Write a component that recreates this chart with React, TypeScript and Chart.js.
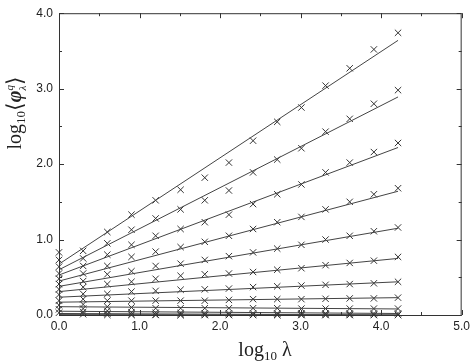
import React, { useEffect, useRef } from "react";
import { Chart, registerables } from "chart.js";

Chart.register(...registerables);

// log10(lambda) positions of the samples
const X_VALUES = [0.0, 0.3, 0.6, 0.9, 1.2, 1.51, 1.81, 2.11, 2.41, 2.71, 3.01, 3.31, 3.61, 3.91, 4.21];

// measured moments (one list per q)
const S1 = [0.83, 0.85, 1.10, 1.33, 1.52, 1.66, 1.82, 2.02, 2.31, 2.56, 2.75, 3.04, 3.27, 3.52, 3.74];
const S2 = [0.73, 0.75, 0.95, 1.13, 1.28, 1.40, 1.52, 1.65, 1.89, 2.06, 2.21, 2.43, 2.60, 2.80, 2.98];
const S3 = [0.64, 0.65, 0.80, 0.93, 1.05, 1.14, 1.23, 1.33, 1.47, 1.60, 1.73, 1.89, 2.02, 2.16, 2.28];
const S4 = [0.55, 0.55, 0.65, 0.77, 0.84, 0.90, 0.97, 1.05, 1.14, 1.23, 1.30, 1.40, 1.50, 1.60, 1.68];
const S5 = [0.48, 0.45, 0.54, 0.58, 0.65, 0.68, 0.73, 0.78, 0.83, 0.88, 0.93, 1.00, 1.05, 1.11, 1.16];
const S6 = [0.41, 0.37, 0.41, 0.44, 0.48, 0.52, 0.54, 0.55, 0.57, 0.60, 0.62, 0.66, 0.69, 0.72, 0.77];
const S7 = [0.34, 0.28, 0.28, 0.31, 0.32, 0.335, 0.34, 0.35, 0.37, 0.38, 0.39, 0.40, 0.41, 0.42, 0.44];
const S8 = [0.27, 0.21, 0.19, 0.19, 0.19, 0.19, 0.19, 0.20, 0.21, 0.21, 0.21, 0.215, 0.22, 0.22, 0.23];
const S9 = [0.19, 0.14, 0.11, 0.10, 0.09, 0.09, 0.09, 0.09, 0.09, 0.09, 0.085, 0.085, 0.085, 0.085, 0.085];
const S10 = [0.13, 0.085, 0.055, 0.035, 0.03, 0.025, 0.02, 0.02, 0.02, 0.02, 0.02, 0.02, 0.02, 0.02, 0.02];
const S11 = [0.075, 0.04, 0.02, 0.01, 0.005, 0.0, 0.0, 0.0, 0.0, 0.0, 0.0, 0.0, 0.0, 0.0, 0.0];
const S12 = [0.03, 0.01, 0.0, 0.0, 0.0, 0.0, 0.0, 0.0, 0.0, 0.0, 0.0, 0.0, 0.0, 0.0, 0.0];
const SERIES = [S1, S2, S3, S4, S5, S6, S7, S8, S9, S10, S11, S12];

// fitted straight lines: value at first and last x
const FIT_X = [0.0, 4.21];
const FIT_START = [0.675, 0.60, 0.53, 0.45, 0.38, 0.31, 0.236, 0.17, 0.11, 0.05, 0.02, 0.005];
const FIT_END = [3.64, 2.89, 2.22, 1.64, 1.15, 0.75, 0.44, 0.23, 0.08, 0.02, 0.0, 0.0];

const X_TICKS = [0, 1, 2, 3, 4, 5];
const Y_TICKS = [0, 1, 2, 3, 4];

const INK = "#222";

const framePlugin = {
  id: "frameAndTitles",
  afterDraw(chart: any) {
    const { ctx, chartArea: a, scales } = chart;
    const xs = scales.x;
    const ys = scales.y;
    ctx.save();
    ctx.strokeStyle = "#333";
    ctx.lineWidth = 1;
    ctx.strokeRect(a.left + 0.5, a.top + 0.5, a.right - a.left - 1, a.bottom - a.top);
    ctx.beginPath();
    for (let v = 0; v <= 5.001; v += 0.5) {
      const px = Math.round(xs.getPixelForValue(v)) + 0.5;
      const len = Math.abs(v - Math.round(v)) < 1e-6 ? 5 : 3;
      ctx.moveTo(px, a.bottom);
      ctx.lineTo(px, a.bottom - len);
      ctx.moveTo(px, a.top);
      ctx.lineTo(px, a.top + len);
    }
    for (let v = 0; v <= 4.001; v += 0.5) {
      const py = Math.round(ys.getPixelForValue(v)) + 0.5;
      const len = Math.abs(v - Math.round(v)) < 1e-6 ? 5 : 3;
      ctx.moveTo(a.left, py);
      ctx.lineTo(a.left + len, py);
      ctx.moveTo(a.right, py);
      ctx.lineTo(a.right - len, py);
    }
    ctx.stroke();

    // x title: log10 λ
    ctx.fillStyle = INK;
    ctx.textBaseline = "alphabetic";
    const big = "20px 'Liberation Serif', 'Times New Roman', serif";
    const small = "13px 'Liberation Serif', 'Times New Roman', serif";
    const partsX = [
      { t: "log", f: big, dy: 0 },
      { t: "10", f: small, dy: 4 },
      { t: " λ", f: big, dy: 0 },
    ];
    let w = 0;
    for (const p of partsX) { ctx.font = p.f; w += ctx.measureText(p.t).width; }
    let x = 265 - w / 2;
    for (const p of partsX) {
      ctx.font = p.f;
      ctx.fillText(p.t, x, 356 + p.dy);
      x += ctx.measureText(p.t).width;
    }

    // y title: log10 <phi_lambda^q>
    const partsY = [
      { t: "log", f: big, dy: 0 },
      { t: "10", f: small, dy: 4 },
      { t: "⟨", f: "22px 'DejaVu Serif', serif", dy: 1 },
      { t: "φ", f: "bold italic 20px 'Liberation Serif', serif", dy: 0 },
      { t: "q", f: "italic 11px 'Liberation Serif', serif", dy: -8 },
      { t: "⟩", f: "22px 'DejaVu Serif', serif", dy: 1 },
    ];
    ctx.save();
    ctx.translate(21, 113);
    ctx.rotate(-Math.PI / 2);
    w = 0;
    for (const p of partsY) { ctx.font = p.f; w += ctx.measureText(p.t).width; }
    x = -w / 2;
    for (const p of partsY) {
      ctx.font = p.f;
      ctx.fillText(p.t, x, p.dy);
      if (p.t === "q") {
        ctx.font = "italic 11px 'Liberation Serif', serif";
        ctx.fillText("λ", x, 5);
      }
      x += ctx.measureText(p.t).width;
    }
    ctx.restore();
    ctx.restore();
  },
};

export default function App() {
  const ref = useRef<HTMLCanvasElement | null>(null);
  useEffect(() => {
    if (!ref.current) return;
    const datasets: any[] = [];
    SERIES.forEach((s, i) => {
      datasets.push({
        type: "line",
        data: FIT_X.map((xv, k) => ({ x: xv, y: k === 0 ? FIT_START[i] : FIT_END[i] })),
        borderColor: "#444",
        borderWidth: 1,
        pointRadius: 0,
        fill: false,
        tension: 0,
      });
      datasets.push({
        type: "scatter",
        data: X_VALUES.map((xv, k) => ({ x: xv, y: s[k] })),
        pointStyle: "crossRot",
        pointRadius: 4.5,
        borderColor: "#333",
        borderWidth: 1,
        backgroundColor: "#333",
        showLine: false,
        clip: false,
      });
    });
    const chart = new Chart(ref.current, {
      type: "scatter",
      data: { datasets },
      options: {
        animation: false,
        responsive: false,
        layout: { padding: { top: 5, right: 9, left: 0, bottom: 0 } },
        plugins: { legend: { display: false }, tooltip: { enabled: false } },
        scales: {
          x: {
            type: "linear",
            min: 0,
            max: 5,
            afterFit: (s: any) => { s.height = 46; },
            afterBuildTicks: (s: any) => { s.ticks = X_TICKS.map((v) => ({ value: v })); },
            grid: { display: false, drawTicks: false },
            border: { display: false },
            ticks: {
              padding: 4,
              color: INK,
              font: { family: "'Liberation Sans', Arial, sans-serif", size: 12 },
              callback: (v: any) => Number(v).toFixed(1),
            },
          },
          y: {
            type: "linear",
            min: 0,
            max: 4,
            afterFit: (s: any) => { s.width = 59; },
            afterBuildTicks: (s: any) => { s.ticks = Y_TICKS.map((v) => ({ value: v })); },
            grid: { display: false, drawTicks: false },
            border: { display: false },
            ticks: {
              padding: 6,
              color: INK,
              font: { family: "'Liberation Sans', Arial, sans-serif", size: 12 },
              callback: (v: any) => Number(v).toFixed(1),
            },
          },
        },
      },
      plugins: [framePlugin],
    });
    return () => chart.destroy();
  }, []);
  return (
    <div style={{ position: "absolute", left: 0, top: 0, width: 474, height: 361, background: "#fff" }}>
      <canvas ref={ref} width={474} height={361} />
    </div>
  );
}
